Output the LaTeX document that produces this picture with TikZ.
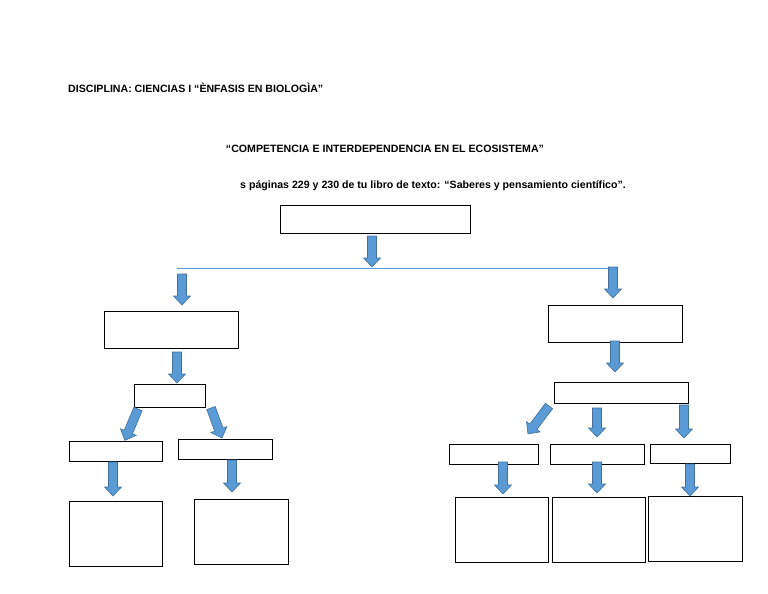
\documentclass[tikz,border=0pt]{standalone}
\usepackage{fontspec}
\setmainfont{Liberation Sans}
\definecolor{arrfill}{RGB}{91,155,213}
\definecolor{arrline}{RGB}{65,113,156}
\tikzset{box/.style={draw,line width=0.8pt},
  txt/.style={font=\bfseries\fontsize{10.6}{12}\selectfont,anchor=west,inner sep=0},
  barr/.style={fill=arrfill,draw=arrline,line width=0.6pt}}
\newcommand\blkarrow[4]{\begin{scope}[shift={(#1,#2)},rotate=#3]
 \draw[barr] (0,-4.5)--(#4-9,-4.5)--(#4-9,-8.5)--(#4,0)--(#4-9,8.5)--(#4-9,4.5)--(0,4.5)--cycle;\end{scope}}
\begin{document}
\begin{tikzpicture}[x=1pt,y=-1pt]
\useasboundingbox (0,0) rectangle (768,594);
\node[txt] (t1) at (68,88) {DISCIPLINA: CIENCIAS I “ÈNFASIS EN BIOLOGÌA”};
\node[txt,anchor=center] (t2) at (385,149) {“COMPETENCIA E INTERDEPENDENCIA EN EL ECOSISTEMA”};
\node[txt] (t3) at (240,186) {s páginas 229 y 230 de tu libro de texto: “Saberes y pensamiento científico”.};
\draw[box] (280,205) rectangle (470,233);
\draw[box] (104,311) rectangle (238,348);
\draw[box] (548,305) rectangle (682,342);
\draw[box] (134,384) rectangle (205,407);
\draw[box] (554,382) rectangle (688,403);
\draw[box] (69,441) rectangle (162,461);
\draw[box] (178,439) rectangle (272,459);
\draw[box] (449,444) rectangle (538,464);
\draw[box] (550,444) rectangle (644,464);
\draw[box] (650,444) rectangle (730,463);
\draw[box] (69,501) rectangle (162,566);
\draw[box] (194,499) rectangle (288,564);
\draw[box] (455,497) rectangle (548,562);
\draw[box] (552,497) rectangle (645,562);
\draw[box] (648,496) rectangle (742,561);
\draw[arrfill,line width=0.8pt] (177,268)--(612,268);
\blkarrow{372}{236}{-90}{31}
\blkarrow{182}{274}{-90}{31}
\blkarrow{613}{267}{-90}{31}
\blkarrow{177}{352}{-90}{31}
\blkarrow{615}{341}{-90}{31}
\blkarrow{138}{409}{-112.7}{34}
\blkarrow{211}{408}{-70}{32}
\blkarrow{549}{406}{-127}{35}
\blkarrow{597}{408}{-90}{29}
\blkarrow{684}{405}{-90}{33}
\blkarrow{113}{462}{-90}{34}
\blkarrow{232}{460}{-90}{32}
\blkarrow{503}{462}{-90}{32}
\blkarrow{597}{462}{-90}{31}
\blkarrow{690}{464}{-90}{32}
\end{tikzpicture}
\end{document}
